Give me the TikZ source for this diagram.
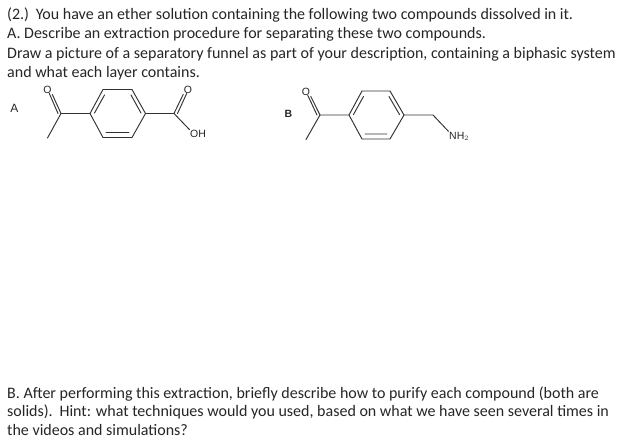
\documentclass[tikz,border=0pt]{standalone}
\usepackage{fontspec}
\setmainfont{Carlito}
\newfontfamily\arialf{Liberation Sans}
\tikzset{
  para/.style={anchor=base west,inner sep=0pt,font=\fontsize{16}{19}\selectfont,text=black!85},
  atom/.style={inner sep=0.5pt,font=\arialf\fontsize{10.5}{12}\selectfont,text=black!85},
  lab/.style={inner sep=0pt,font=\arialf\fontsize{12}{13}\selectfont,text=black!85},
  bond/.style={line width=0.95pt,draw=black!80,line cap=round,line join=round}
}
\begin{document}
\begin{tikzpicture}[x=1pt,y=-1pt]
\useasboundingbox (0,0) rectangle (619,441);
\fill[white] (0,0) rectangle (619,441);
\node[para] (t1) at (7,20) {(2.)\hspace{2pt} You have an ether solution containing the following two compounds dissolved in it.};
\node[para] (t2) at (7,39) {A. Describe an extraction procedure for separating these two compounds.};
\node[para] (t3) at (7,59) {Draw a picture of a separatory funnel as part of your description, containing a biphasic system};
\node[para] (t4) at (7,78) {and what each layer contains.};
\node[para] (t5) at (7,398) {B. After performing this extraction, briefly describe how to purify each compound (both are};
\node[para] (t6) at (7,416) {solids).\hspace{2pt} Hint: what techniques would you used, based on what we have seen several times in};
\node[para] (t7) at (7,435) {the videos and simulations?};
% Molecule A
\node[lab] (la) at (14.5,108.5) {A};
\node[atom] (oa1) at (47.5,90) {O};
\node[atom] (oa2) at (188,90) {O};
\node[atom] (oh) at (198,134) {OH};
\coordinate (a1) at (90,113.5);\coordinate (a2) at (103,89.5);\coordinate (a3) at (132,89.5);
\coordinate (a4) at (145.5,113.5);\coordinate (a5) at (132,137.5);\coordinate (a6) at (103,137.5);
\coordinate (ac1) at (61,113.5);\coordinate (am) at (47.5,138);\coordinate (ac2) at (174,113.5);
\draw[bond] (a1)--(a2)--(a3)--(a4)--(a5)--(a6)--cycle;
\draw[bond] (94.5,113)--(104.5,95) (106,132.5)--(129,132.5) (131,95)--(141,113);
\draw[bond] (a1)--(ac1)--(am);
\draw[bond] (ac1)--(oa1.south east);
\draw[bond] ([xshift=-3pt]ac1)--([xshift=-3pt,yshift=1pt]oa1.south east);
\draw[bond] (a4)--(ac2)--(oh.north west);
\draw[bond] (ac2)--(oa2.south west);
\draw[bond] ([xshift=3.5pt]ac2)--([xshift=3.5pt,yshift=1pt]oa2.south west);
% Molecule B
\node[lab,font=\arialf\bfseries\fontsize{10.5}{12}\selectfont] (lb) at (288.5,113.5) {B};
\node[atom] (ob) at (306,92) {O};
\node[atom] (nh) at (459,136.5) {NH$_{2}$};
\coordinate (b1) at (349,115);\coordinate (b2) at (362,91);\coordinate (b3) at (390,91);
\coordinate (b4) at (404,115);\coordinate (b5) at (390,139);\coordinate (b6) at (362,139);
\coordinate (bc1) at (320,115);\coordinate (bm) at (306,139.5);\coordinate (bc2) at (433,115);
\draw[bond] (b1)--(b2)--(b3)--(b4)--(b5)--(b6)--cycle;
\draw[bond] (353.5,114.5)--(363.5,96.5) (365,134)--(387,134) (389,96.5)--(399.5,114.5);
\draw[bond] (b1)--(bc1)--(bm);
\draw[bond] (bc1)--(ob.south east);
\draw[bond] ([xshift=-3pt]bc1)--([xshift=-3pt,yshift=1pt]ob.south east);
\draw[bond] (b4)--(bc2)--(nh.north west);
\end{tikzpicture}
\end{document}
